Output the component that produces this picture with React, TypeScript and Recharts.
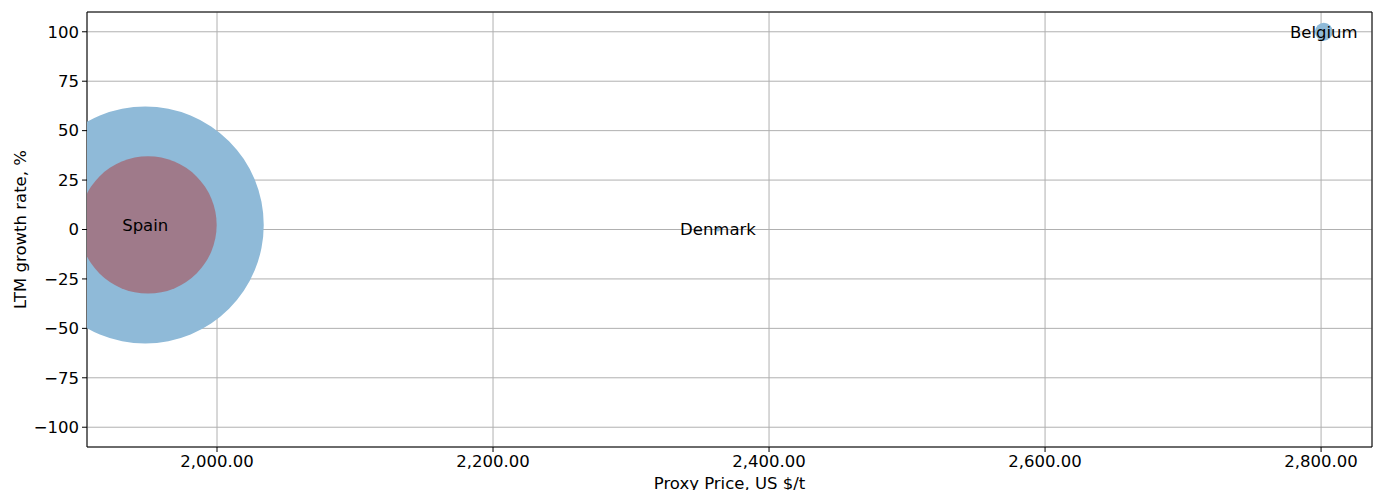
import React from "react";
import {
  ScatterChart,
  Scatter,
  XAxis,
  YAxis,
  ZAxis,
  CartesianGrid,
  ReferenceLine,
  LabelList,
} from "recharts";

// countries, proxy price (US$/t), LTM growth (%), bubble size (volume)
const countries = ["Spain", "Denmark", "Belgium"];
const prices = [1948, 2363, 2802];
const growth = [2.3, 0, 100];
const volumes = [14000, 4, 80];

// second (inner) bubble for Spain
const innerNames = ["Spain"];
const innerPrices = [1950];
const innerGrowth = [2.3];
const innerVolumes = [4700];

const xTicks = [2000, 2200, 2400, 2600, 2800];
const yTicks = [-100, -75, -50, -25, 0, 25, 50, 75, 100];

const outerData = countries.map((name, i) => ({
  name,
  price: prices[i],
  growth: growth[i],
  volume: volumes[i],
}));

const innerData = innerNames.map((name, i) => ({
  name,
  price: innerPrices[i],
  growth: innerGrowth[i],
  volume: innerVolumes[i],
}));

const X_MIN = 1905.8;
const X_MAX = 2836.9;
const FONT = "DejaVu Sans, sans-serif";
const FS = 16.5;

const fmt = (v: number) =>
  v.toLocaleString("en-US", { minimumFractionDigits: 2, maximumFractionDigits: 2 });
const fmtY = (v: number) => (v < 0 ? "\u2212" + Math.abs(v) : String(v));

export default function App() {
  return (
    <div style={{ position: "absolute", left: 0, top: 0, background: "#fff" }}>
      <ScatterChart
        width={1373}
        height={490}
        margin={{ top: 12, right: 1, bottom: 0, left: 0 }}
        style={{ fontFamily: FONT }}
      >
        <CartesianGrid stroke="#b0b0b0" strokeWidth={1} />
        <XAxis
          type="number"
          dataKey="price"
          domain={[X_MIN, X_MAX]}
          allowDataOverflow
          ticks={xTicks}
          tickFormatter={fmt}
          height={43}
          stroke="#000"
          tickSize={5}
          tickMargin={3}
          tick={{ fill: "#000", fontSize: FS, fontFamily: FONT }}
          label={{
            value: "Proxy Price, US $/t",
            position: "insideBottom",
            offset: 1,
            fill: "#000",
            fontSize: FS,
            fontFamily: FONT,
          }}
        />
        <YAxis
          type="number"
          dataKey="growth"
          domain={[-110, 110]}
          allowDataOverflow
          ticks={yTicks}
          tickFormatter={fmtY}
          width={87}
          stroke="#000"
          tickSize={5}
          tickMargin={3}
          tick={{ fill: "#000", fontSize: FS, fontFamily: FONT }}
          label={{
            value: "LTM growth rate, %",
            angle: -90,
            position: "insideLeft",
            offset: 20,
            fill: "#000",
            fontSize: FS,
            fontFamily: FONT,
            style: { textAnchor: "middle" },
          }}
        />
        <ZAxis type="number" dataKey="volume" domain={[0, 14000]} range={[0, 44115]} />
        <ReferenceLine y={110} stroke="#000" />
        <ReferenceLine x={X_MAX} stroke="#000" />
        <Scatter data={outerData} fill="#8fbad8" isAnimationActive={false} />
        <Scatter data={innerData} fill="#9f7a8a" isAnimationActive={false} />
        <Scatter data={outerData} fill="none" isAnimationActive={false}>
          <LabelList
            dataKey="name"
            position="center"
            fill="#000"
            fontSize={FS}
            fontFamily={FONT}
          />
        </Scatter>
      </ScatterChart>
    </div>
  );
}
